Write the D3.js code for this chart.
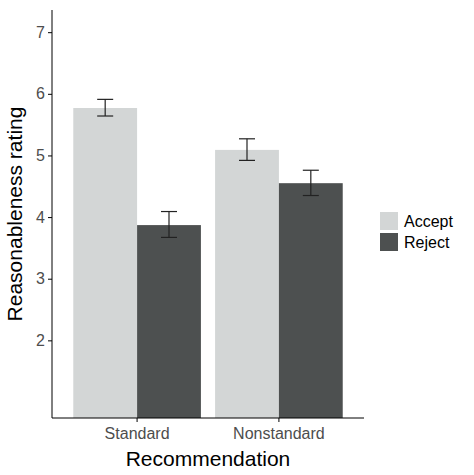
<!DOCTYPE html>
<html><head><meta charset="utf-8">
<script src="https://cdn.jsdelivr.net/npm/d3@7"></script>
<style>body{margin:0;background:#fff}</style></head>
<body><svg id="c" width="474" height="475"></svg>
<script>
const categories = ["Standard", "Nonstandard"];
const groups = ["Accept", "Reject"];
const means = {Accept: [5.77, 5.09], Reject: [3.87, 4.55]};
const lower = {Accept: [5.64, 4.92], Reject: [3.67, 4.35]};
const upper = {Accept: [5.91, 5.27], Reject: [4.09, 4.76]};
const yTicks = [2, 3, 4, 5, 6, 7];
const colors = {Accept: "#d3d6d6", Reject: "#4d5050"};

const svg = d3.select("#c");
const L = 52, R = 364, T = 10, B = 418;
const y = d3.scaleLinear().domain([0.74, 7.36]).range([B, T]);
const x = d3.scaleBand().domain(categories).range([L, R]).paddingInner(0.1).paddingOuter(0.15);
const xs = d3.scaleBand().domain(groups).range([0, x.bandwidth()]);

categories.forEach((c, i) => {
  groups.forEach(g => {
    const x0 = x(c) + xs(g);
    svg.append("rect").attr("x", x0).attr("width", xs.bandwidth())
      .attr("y", y(means[g][i])).attr("height", B - y(means[g][i])).attr("fill", colors[g]);
    const cx = x0 + xs.bandwidth() / 2, w = 8;
    const eg = svg.append("g").attr("stroke", "#222").attr("stroke-width", 1.2);
    eg.append("line").attr("x1", cx).attr("x2", cx).attr("y1", y(lower[g][i])).attr("y2", y(upper[g][i]));
    eg.append("line").attr("x1", cx - w).attr("x2", cx + w).attr("y1", y(lower[g][i])).attr("y2", y(lower[g][i]));
    eg.append("line").attr("x1", cx - w).attr("x2", cx + w).attr("y1", y(upper[g][i])).attr("y2", y(upper[g][i]));
  });
});

const ya = svg.append("g").attr("transform", `translate(${L},0)`)
  .call(d3.axisLeft(y).tickValues(yTicks).tickFormat(d3.format("d")).tickSize(4).tickSizeOuter(0));
ya.select(".domain").attr("d", `M0,${T}V${B}`);
const xa = svg.append("g").attr("transform", `translate(0,${B})`)
  .call(d3.axisBottom(x).tickSize(4).tickSizeOuter(0));
xa.select(".domain").attr("d", `M${L},0H${R}`);
svg.selectAll(".tick text").attr("font-family", "Liberation Sans, Arial").attr("font-size", 16).attr("fill", "#4d4d4d");
xa.selectAll(".tick text").attr("dy", "0.9em");
svg.selectAll(".domain, .tick line").attr("stroke", "#000");

svg.append("text").attr("x", (L + R) / 2).attr("y", 466).attr("text-anchor", "middle")
  .attr("font-family", "Liberation Sans, Arial").attr("font-size", 21).text("Recommendation");
svg.append("text").attr("transform", `translate(22,${(T + B) / 2}) rotate(-90)`).attr("text-anchor", "middle")
  .attr("font-family", "Liberation Sans, Arial").attr("font-size", 21).text("Reasonableness rating");

groups.forEach((g, i) => {
  const ly = 212 + i * 21;
  svg.append("rect").attr("x", 380).attr("y", ly).attr("width", 18).attr("height", 18).attr("fill", colors[g]);
  svg.append("text").attr("x", 404).attr("y", ly + 15).attr("font-family", "Liberation Sans, Arial")
    .attr("font-size", 16).text(g);
});
</script></body></html>
